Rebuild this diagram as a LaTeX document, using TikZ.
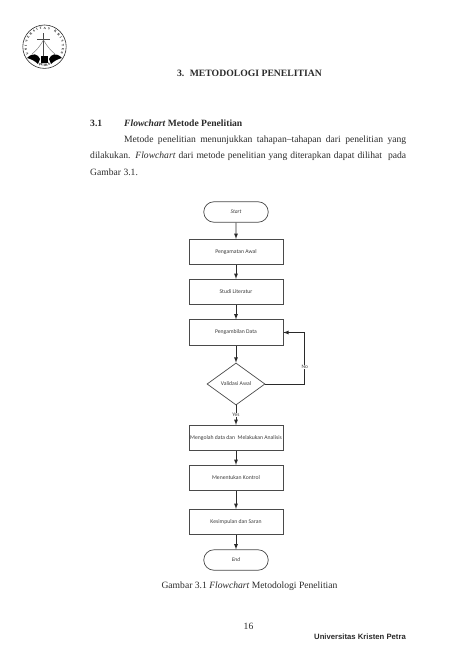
\documentclass[tikz,border=0pt]{standalone}
\usepackage{xcolor}
\usepackage{fontspec}
\setmainfont{Liberation Serif}
\setsansfont{Liberation Sans}
\newfontfamily\chartfont{Carlito}
\usetikzlibrary{shapes.geometric,shapes.misc,decorations.text}
\definecolor{INKcolor}{HTML}{2A2A2A}
\definecolor{LINEcolor}{HTML}{4A4A4A}
\definecolor{TXTcolor}{HTML}{3C3C3C}
\tikzset{
  stepbox/.style={draw=LINEcolor, line width=0.7pt, minimum width=94pt, minimum height=25.5pt, inner sep=0pt,
    font=\chartfont\fontsize{5.7}{7}\selectfont, text=TXTcolor},
  termbox/.style={draw=LINEcolor, line width=0.7pt, rounded rectangle, minimum width=64.5pt, minimum height=20.5pt, inner sep=0pt,
    font=\chartfont\itshape\fontsize{5.6}{7}\selectfont, text=TXTcolor},
  decibox/.style={draw=LINEcolor, line width=0.7pt, diamond, aspect=1.38, minimum width=58pt, minimum height=42pt, inner sep=0pt,
    font=\chartfont\fontsize{5.7}{7}\selectfont, text=TXTcolor},
  arrowline/.style={draw=INKcolor, line width=0.8pt, -latex},
  smalllbl/.style={font=\chartfont\fontsize{5.4}{7}\selectfont, text=TXTcolor, inner sep=0.6pt},
  pagetxt/.style={inner sep=0pt, text=INKcolor, font=\fontsize{9.6}{16.5}\selectfont}
}
\begin{document}
\begin{tikzpicture}[x=1pt,y=1pt]
  \useasboundingbox (0,0) rectangle (474,-669);

  % crest
  \draw[INKcolor, line width=0.6pt] (44.5,-46.7) circle (21.7);
  \path[postaction={decorate, decoration={text along path, text align=fit to path,
      text={|\fontsize{3.2}{4}\selectfont\bfseries|UNIVERSITAS KRISTEN}}}]
    (44.5,-46.7) ++(205:17.6) arc (205:-25:17.6);
  \path[postaction={decorate, decoration={text along path, text align=center,
      text={|\fontsize{3.4}{4}\selectfont\bfseries|PETRA}}}]
    (44.5,-46.7) ++(232:19.4) arc (232:308:19.4);
  \draw[LINEcolor, line width=0.5pt] (43.5,-33.5) -- (43.5,-56) (37,-39) -- (50,-39);
  \draw[gray, line width=0.5pt] (43.5,-40) .. controls (40,-46) and (37,-50) .. (32,-54);
  \draw[gray, line width=0.5pt] (43.5,-40) .. controls (47,-46) and (50,-50) .. (55,-54);
  \fill[black] (27,-58) .. controls (33,-52) and (38,-54) .. (40,-59) -- (38,-64) .. controls (35,-61) and (31,-59) .. (27,-58) -- cycle;
  \fill[black] (62,-58) .. controls (56,-52) and (51,-54) .. (49,-59) -- (51,-64) .. controls (54,-61) and (58,-59) .. (62,-58) -- cycle;
  \fill[black] (41,-56) rectangle (48,-63);

  % page text
  \node[pagetxt, font=\fontsize{9.7}{11}\selectfont\bfseries] (chaptitle) at (249.5,-73) {3.\hspace{5.5pt}METODOLOGI PENELITIAN};
  \node[pagetxt, font=\fontsize{9.6}{11}\selectfont\bfseries, anchor=base west] (secnum) at (90,-126) {3.1};
  \node[pagetxt, font=\fontsize{9.6}{11}\selectfont\bfseries, anchor=base west] (sectitle) at (124,-126) {\textit{Flowchart} Metode Penelitian};
  \node[pagetxt, anchor=north west, text width=316pt, align=justify] (bodytxt) at (90,-135.5)
    {\hspace*{34pt}Metode penelitian menunjukkan tahapan--tahapan dari penelitian yang\linebreak
     dilakukan. \textit{Flowchart} dari metode penelitian yang diterapkan dapat dilihat \ pada\linebreak
     Gambar 3.1.\par};

  % flowchart
  \node[termbox] (startnode) at (236,-212) {Start};
  \node[stepbox] (obsnode) at (236,-252) {Pengamatan Awal};
  \node[stepbox] (litnode) at (236,-292) {Studi Literatur};
  \node[stepbox] (datanode) at (236,-332.5) {Pengambilan Data};
  \node[decibox] (valnode) at (236,-384) {Validasi Awal};
  \node[stepbox] (anlnode) at (236,-438) {Mengolah data dan \ Melakukan Analisis};
  \node[stepbox] (ctrlnode) at (236,-478) {Menentukan Kontrol};
  \node[stepbox] (conclnode) at (236,-522) {Kesimpulan dan Saran};
  \node[termbox] (endnode) at (236,-560) {End};

  \foreach \a/\b in {startnode/obsnode, obsnode/litnode, litnode/datanode, datanode/valnode,
    valnode/anlnode, anlnode/ctrlnode, ctrlnode/conclnode, conclnode/endnode} {
    \draw[arrowline] (\a) -- (\b);
  }
  \coordinate (loopcorner) at (304.7,-384);
  \draw[arrowline] (valnode.east) -- (loopcorner) |- (datanode.east);
  \node[smalllbl, fill=white] (nolbl) at (304.7,-367) {No};
  \node[smalllbl, fill=white] (yeslbl) at (236,-415) {Yes};

  % caption and footer
  \node[pagetxt, font=\fontsize{9.6}{11}\selectfont] (captxt) at (249.5,-586) {Gambar 3.1 \textit{Flowchart} Metodologi Penelitian};
  \node[pagetxt, font=\fontsize{9.6}{11}\selectfont] (pagenum) at (248.5,-626) {16};
  \node[pagetxt, font=\sffamily\bfseries\fontsize{7.7}{9}\selectfont, anchor=east] (footer) at (406,-636.5) {Universitas Kristen Petra};
\end{tikzpicture}
\end{document}
